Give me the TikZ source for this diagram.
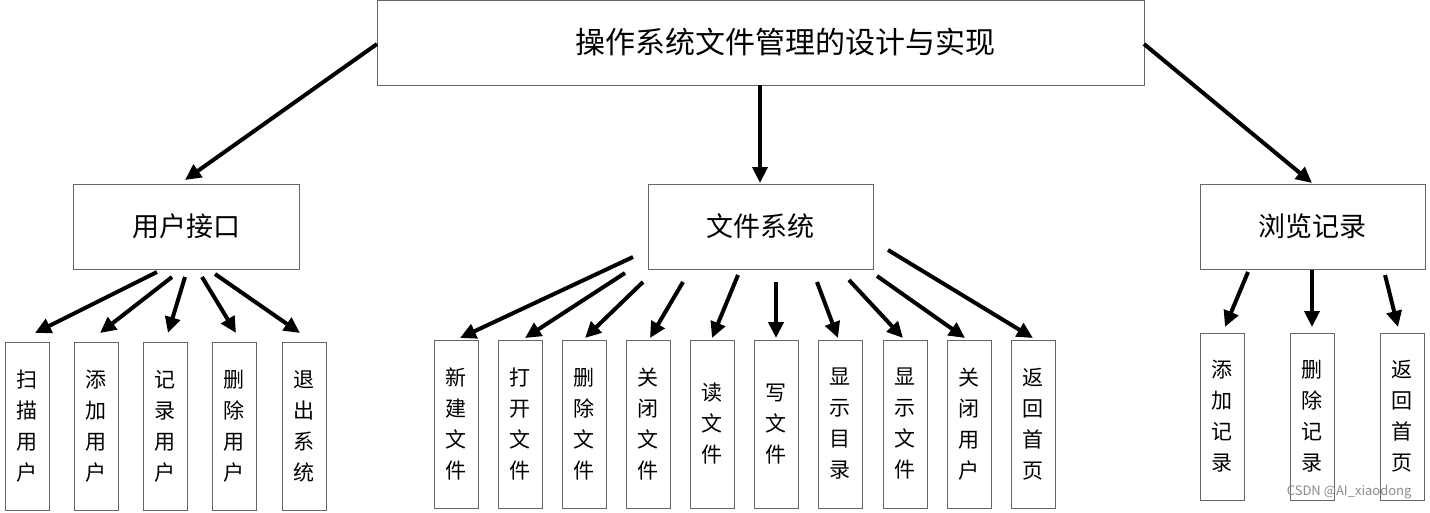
\documentclass[tikz,border=0pt]{standalone}
\usepackage{fontspec}
\setmainfont{Noto Sans CJK SC}
\usetikzlibrary{arrows.meta}
\begin{document}
\begin{tikzpicture}[x=1pt,y=-1pt,
  box/.style={draw=black!60,line width=0.8,fill=white,inner sep=0},
  arr/.style={line width=4,-{Triangle[length=16,width=15]}},
  leaf/.style={font=\fontsize{21}{31}\selectfont,align=center}]
\useasboundingbox[fill=white] (0,0) rectangle (1430,512);
% top
\draw[box] (377,0) rectangle (1144,85);
\node[font=\fontsize{30}{34}\selectfont] (top) at (785,42) {操作系统文件管理的设计与实现};
\coordinate (tl) at (377,44); \coordinate (tm) at (760,85); \coordinate (tr) at (1144,44);
% mid
\draw[box] (73,184) rectangle (299,269);
\node[font=\fontsize{27}{30}\selectfont] (m1) at (186,226) {用户接口};
\draw[box] (648,184) rectangle (873,269);
\node[font=\fontsize{27}{30}\selectfont] (m2) at (760,226) {文件系统};
\draw[box] (1200,184) rectangle (1425,269);
\node[font=\fontsize{27}{30}\selectfont] (m3) at (1312,226) {浏览记录};
\coordinate (m1t) at (185,180); \coordinate (m2t) at (760,183); \coordinate (m3t) at (1312,183);
\draw[arr] (tl) -- (m1t);
\draw[arr] (tm) -- (m2t);
\draw[arr] (tr) -- (m3t);
% leaves
\foreach \x/\t/\n [count=\i] in {
  5/扫\\描\\用\\户/a1, 74/添\\加\\用\\户/a2, 143/记\\录\\用\\户/a3, 212/删\\除\\用\\户/a4, 282/退\\出\\系\\统/a5}{
  \draw[box] (\x,342) rectangle ++(44,168);
  \node[leaf] (\n) at (\x+22,426) {\t};
}
\foreach \x/\t/\n in {
  434/新\\建\\文\\件/b1, 498/打\\开\\文\\件/b2, 562/删\\除\\文\\件/b3, 626/关\\闭\\文\\件/b4,
  690/读\\文\\件/b5, 754/写\\文\\件/b6, 818/显\\示\\目\\录/b7, 883/显\\示\\文\\件/b8,
  947/关\\闭\\用\\户/b9, 1011/返\\回\\首\\页/b10}{
  \draw[box] (\x,340) rectangle ++(44,168);
  \node[leaf] (\n) at (\x+22,424) {\t};
}
\foreach \x/\t/\n in {1200/添\\加\\记\\录/c1, 1290/删\\除\\记\\录/c2, 1380/返\\回\\首\\页/c3}{
  \draw[box] (\x,333) rectangle ++(44,167);
  \node[leaf] (\n) at (\x+22,416) {\t};
}
% left arrows
\foreach \a/\b/\c/\d in {157/272/35/333, 172/277/100/333, 185/277/168/333, 202/277/236/333, 215/274/300/333,
  633/257/460/338, 625/273/525/338, 643/282/585/338, 683/282/650/338, 738/275/712/338, 776/282/776/338,
  817/282/838/338, 849/280/903/338, 877/276/965/338, 888/250/1033/338,
  1248/272/1225/327, 1312/270/1312/327, 1385/275/1398/327}{
  \draw[arr] (\a,\b) -- (\c,\d);
}
\node[font=\fontsize{13}{15}\selectfont,text=black!45,anchor=east] (wm) at (1415,492) {CSDN @AI\_xiaodong};
\end{tikzpicture}
\end{document}
